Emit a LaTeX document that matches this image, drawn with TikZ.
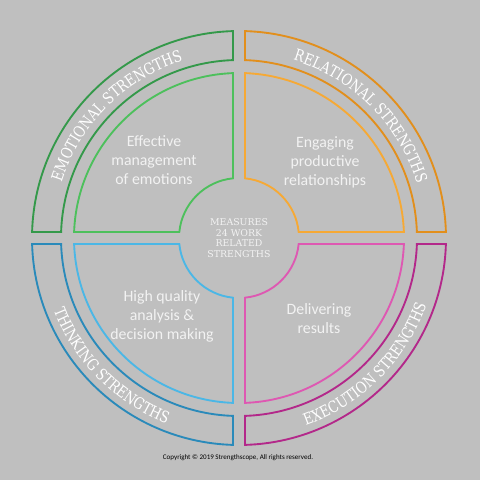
\documentclass[tikz,border=0pt]{standalone}
\usepackage{fontspec}
\setmainfont{Carlito}
\newfontfamily\slabfont{DejaVu Serif}
\newfontfamily\slabnarrow[FakeStretch=0.82]{DejaVu Serif}
\usepackage{xcolor}
\usetikzlibrary{decorations.text}
\definecolor{ssgrey}{HTML}{BFBFBF}
\definecolor{ssgreen}{HTML}{34994A}
\definecolor{sslightgreen}{HTML}{4DC05C}
\definecolor{ssorange}{HTML}{E28F1C}
\definecolor{sslightorange}{HTML}{F6A935}
\definecolor{ssblue}{HTML}{2A8ABA}
\definecolor{sslightblue}{HTML}{4BB7E6}
\definecolor{ssmagenta}{HTML}{B3288A}
\definecolor{sslightmagenta}{HTML}{DE58B2}
\definecolor{sstext}{HTML}{F2F2F2}
\newcommand\bandfont{\slabnarrow\fontsize{13.5}{13.5}\selectfont}

\begin{document}
\begin{tikzpicture}[x=0.3mm, y=0.3mm,
  every node/.style={font=\fontsize{13.5}{16.2}\selectfont, text=sstext, align=center},
  bandtext/.style={decorate, decoration={text along path, text align=center, text color=white, text={|\bandfont|#1}}}]
  \fill[ssgrey] (-239,-242) rectangle (241,238);
  \useasboundingbox (-239,-242) rectangle (241,238);
  % quadrants: inner panel and outer band
  \foreach \rot/\outc/\inc in {0/ssorange/sslightorange, 90/ssgreen/sslightgreen, 180/ssblue/sslightblue, 270/ssmagenta/sslightmagenta} {
    \begin{scope}[rotate=\rot, line width=1.6pt]
      \draw[\inc] ({90-asin(6/60)}:60) -- ({90-asin(6/165)}:165)
        arc[start angle={90-asin(6/165)}, end angle={asin(6/165)}, radius=165]
        -- ({asin(6/60)}:60)
        arc[start angle={asin(6/60)}, end angle={90-asin(6/60)}, radius=60] -- cycle;
      \draw[\outc] ({90-asin(6/178)}:178) -- ({90-asin(6/207)}:207)
        arc[start angle={90-asin(6/207)}, end angle={asin(6/207)}, radius=207]
        -- ({asin(6/178)}:178)
        arc[start angle={asin(6/178)}, end angle={90-asin(6/178)}, radius=178] -- cycle;
    \end{scope}
  }
  % band titles
  \path[bandtext=EMOTIONAL STRENGTHS] (175:186) arc[start angle=175, end angle=95, radius=186];
  \path[bandtext=RELATIONAL STRENGTHS] (85:186) arc[start angle=85, end angle=5, radius=186];
  \path[bandtext=THINKING STRENGTHS] (185:199) arc[start angle=185, end angle=265, radius=199];
  \path[bandtext=EXECUTION STRENGTHS] (275:199) arc[start angle=275, end angle=355, radius=199];
  % panel texts
  \node (emotions) at (-85,78) {Effective\\management\\of emotions};
  \node (relations) at (86,76) {Engaging\\productive\\relationships};
  \node (thinking) at (-77,-78) {High quality\\analysis \&\\decision making};
  \node (results) at (80,-81) {Delivering\\results};
  % centre
  \node[font=\slabfont\fontsize{8}{9.2}\selectfont] (measures) at (0,0) {MEASURES\\24 WORK\\RELATED\\STRENGTHS};
  \node[text=black, font=\fontsize{6}{7}\selectfont] (copyright) at (-1,-220) {Copyright © 2019 Strengthscope, All rights reserved.};
\end{tikzpicture}
\end{document}
